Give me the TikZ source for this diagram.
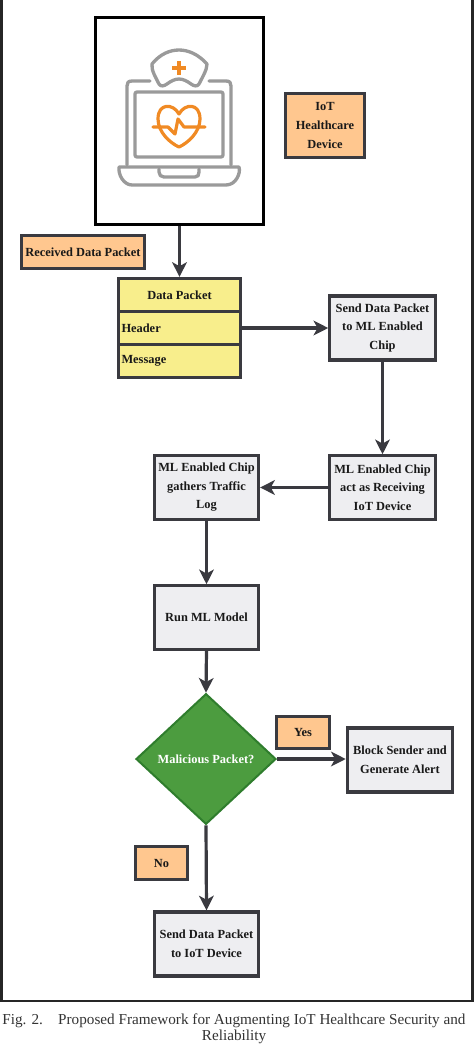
\documentclass[tikz,border=0pt]{standalone}
\usepackage{fontspec}
\setmainfont{Liberation Serif}
\usetikzlibrary{arrows.meta,shapes.geometric}
\definecolor{ink}{HTML}{3A3A40}
\definecolor{peach}{HTML}{FFC78F}
\definecolor{packet}{HTML}{F8EE8C}
\definecolor{chip}{HTML}{EEEEF1}
\definecolor{leaf}{HTML}{4C9C3F}
\definecolor{leafdark}{HTML}{2F7D2D}
\definecolor{icongray}{HTML}{9A9A9A}
\definecolor{iconorange}{HTML}{F08A24}
\definecolor{captiongray}{HTML}{333333}
\tikzset{
  x=0.75pt,y=-0.75pt,
  lab/.style={font=\fontsize{9.3}{13.9}\selectfont\bfseries,align=center,text=black!90},
  box/.style={lab,draw=ink,line width=2.4pt,inner sep=0pt,fill=#1},
  flow/.style={draw=ink,line width=2.4pt,-{Stealth[length=11pt,width=11pt,inset=3pt]}},
  gl/.style={draw=icongray,line width=2.5pt,line cap=round,line join=round},
  ol/.style={draw=iconorange,line width=2.4pt,line cap=round,line join=round},
  rows/.style={box=packet,minimum width=92pt,minimum height=24.75pt}
}
\begin{document}
\begin{tikzpicture}
\useasboundingbox (0,0) rectangle (474,1046);
% outer frame
\draw[line width=1.8pt,draw=black!85] (1.5,0) -- (1.5,1001) -- (472.5,1001) -- (472.5,0);
% device box
\node[draw=black,line width=2.6pt,minimum width=126pt,minimum height=155pt,inner sep=0pt] (device) at (179.5,121) {};
% icon: cap
\draw[gl] (152,64) .. controls (160,54) and (170,50) .. (179,50) .. controls (188,50) and (198,54) .. (207,64) .. controls (207,70) and (202,78) .. (199,84) .. controls (197,87) and (194,86) .. (191,84) .. controls (187,81) and (183,79) .. (179,79) .. controls (175,79) and (171,81) .. (167,84) .. controls (164,86) and (161,87) .. (159,84) .. controls (156,78) and (151,70) .. cycle;
\draw[ol,line width=3pt,line cap=butt] (179,61) -- (179,75) (172,68) -- (186,68);
% icon: laptop
\draw[gl] (150,81) -- (132,81) .. controls (128,81) and (127,83) .. (127,86) -- (127,165);
\draw[gl] (209,81) -- (226,81) .. controls (230,81) and (231,83) .. (231,86) -- (231,165);
\draw[gl,rounded corners=1.5pt] (135,92) rectangle (223,157);
\draw[gl] (119,167) -- (239,167) .. controls (241,173) and (236,185) .. (226,185) -- (132,185) .. controls (124,185) and (118,175) .. (119,167) -- cycle;
\draw[gl] (159,169) -- (159,172) .. controls (159,175) and (161,177) .. (164,177) -- (195,177) .. controls (198,177) and (199,175) .. (199,172) -- (199,169);
% icon: heart
\draw[ol] (179,114) .. controls (173,103) and (158,103) .. (158,119) .. controls (158,132) and (170,143) .. (179,147) .. controls (188,143) and (200,132) .. (200,119) .. controls (200,103) and (185,103) .. (179,114) -- cycle;
\draw[ol] (153,127) -- (168,127) -- (175,134) -- (178,119) -- (184,127) -- (205,127);
% labels
\node[box=peach,minimum width=59pt,minimum height=47.5pt] (iot) at (325,125.5) {IoT\\Healthcare\\Device};
\node[box=peach,minimum width=92pt,minimum height=24.5pt] (recv) at (83,252) {Received Data Packet};
\node[rows] (dp) at (179.5,295) {Data Packet};
\node[rows,text width=87pt,align=left] (hdr) at (179.5,328) {Header};
\node[rows,text width=87pt,align=left] (msg) at (179.5,361) {Message};
\node[box=chip,minimum width=79pt,minimum height=48pt] (send) at (382.5,328) {Send Data Packet\\to ML Enabled\\Chip};
\node[box=chip,minimum width=79pt,minimum height=47.5pt] (act) at (382.5,487.5) {ML Enabled Chip\\act as Receiving\\IoT Device};
\node[box=chip,minimum width=78pt,minimum height=47.5pt] (log) at (206.5,487.5) {ML Enabled Chip\\gathers Traffic\\Log};
\node[box=chip,minimum width=78pt,minimum height=47.5pt] (run) at (206.5,617.5) {Run ML Model};
\node[diamond,aspect=1.08,draw=leafdark,line width=1.5pt,fill=leaf,inner sep=0pt,minimum width=105pt,minimum height=98pt,lab,text=white] (mal) at (206,759) {Malicious Packet?};
\node[box=chip,minimum width=79pt,minimum height=48pt] (block) at (400,760) {Block Sender and\\Generate Alert};
\node[box=peach,minimum width=39.5pt,minimum height=24pt] (yes) at (303,732.5) {Yes};
\node[box=peach,minimum width=39pt,minimum height=24.5pt] (no) at (161.5,863) {No};
\node[box=chip,minimum width=78pt,minimum height=48pt] (out) at (206.5,944) {Send Data Packet\\to IoT Device};
% connectors
\draw[flow] (device.south) -- (dp.north);
\draw[flow] (hdr.east) -- (send.west);
\draw[flow] (send.south) -- (act.north);
\draw[flow] (act.west) -- (log.east);
\draw[flow] (log.south) -- (run.north);
\draw[flow] (run.south) -- (mal.north);
\draw[flow] (mal.east) -- (block.west |- mal.east);
\draw[flow] (mal.south) -- (out.north);
% caption
\node[anchor=north,align=center,text=captiongray,font=\fontsize{11.4}{12}\selectfont,inner sep=0pt] (cap) at (234,1014) {Fig. 2.\hspace{1em}Proposed Framework for Augmenting IoT Healthcare Security and\\Reliability};
\end{tikzpicture}
\end{document}
